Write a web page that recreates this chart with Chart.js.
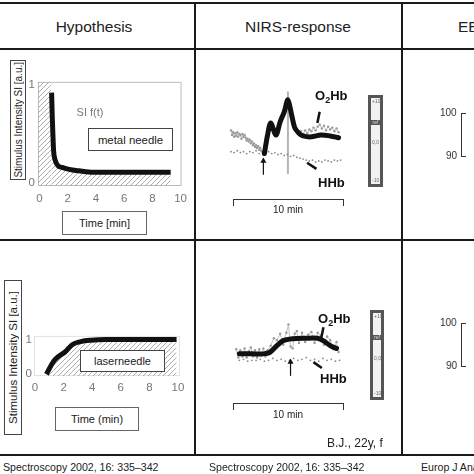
<!DOCTYPE html>
<html>
<head>
<meta charset="utf-8">
<script src="https://cdn.jsdelivr.net/npm/chart.js@4.4.1/dist/chart.umd.min.js"></script>
<style>
body { margin: 0; background: #fff; font-family: "Liberation Sans", Arial, sans-serif; }
#page { position: relative; width: 474px; height: 474px; overflow: hidden; }
.ln { position: absolute; background: #1a1a1a; }
.t { position: absolute; white-space: nowrap; line-height: 1; color: #222; }
.c { transform: translate(-50%, -50%); }
.m { transform: translateY(-50%); }
canvas { position: absolute; }
.box { position: absolute; box-sizing: border-box; border: 1.5px solid #444; display: flex; align-items: center; justify-content: center; color: #222; background: #fff; }
.vbox span { writing-mode: vertical-rl; transform: rotate(180deg); white-space: nowrap; }
.lbl { font-weight: bold; font-size: 13px; color: #111; }
.lbl sub { font-size: 9px; vertical-align: -3px; }
.bar { position: absolute; box-sizing: border-box; border: 3px solid #555; background: #f2f2f2; }
.bar div { position: absolute; left: 1px; font-size: 5px; color: #666; line-height: 1; }
.bar .mk { left: 0; right: 0; height: 5px; background: #555; color: #ddd; text-align: center; }
.bk { position: absolute; box-sizing: border-box; border: 1.2px solid #333; }
</style>
</head>
<body>
<div id="page">
  <!-- table rules -->
  <div class="ln" style="left:0;top:2px;width:474px;height:2px"></div>
  <div class="ln" style="left:0;top:48px;width:474px;height:2px"></div>
  <div class="ln" style="left:0;top:239px;width:474px;height:2px"></div>
  <div class="ln" style="left:0;top:454px;width:474px;height:2px"></div>
  <div class="ln" style="left:194px;top:2px;width:2px;height:454px"></div>
  <div class="ln" style="left:401px;top:2px;width:2px;height:454px"></div>

  <div class="t c" style="left:94px;top:27px;font-size:15.5px">Hypothesis</div>
  <div class="t c" style="left:298px;top:27px;font-size:15.5px">NIRS-response</div>
  <div class="t m" style="left:458px;top:27px;font-size:15.5px">EEG</div>

  <!-- hypothesis, metal needle -->
  <div class="box vbox" style="left:10px;top:60px;width:16px;height:120px;font-size:10px"><span>Stimulus Intensity SI [a.u.]</span></div>
  <canvas id="hyp1" width="179" height="134" style="left:14px;top:72px"></canvas>
  <div class="t c" style="left:90px;top:112px;font-size:11px;color:#777">SI f(t)</div>
  <div class="box" style="left:88px;top:128px;width:85px;height:23px;font-size:11.4px">metal needle</div>
  <div class="box" style="left:62px;top:211px;width:85px;height:24px;font-size:11px;border-color:#666">Time [min]</div>

  <!-- hypothesis, laserneedle -->
  <div class="box vbox" style="left:4px;top:280px;width:18px;height:155px;font-size:11.5px"><span>Stimulus Intensity SI [a.u.]</span></div>
  <canvas id="hyp2" width="178" height="69" style="left:12px;top:327px"></canvas>
  <div class="box" style="left:80px;top:350px;width:85px;height:22px;font-size:11px">laserneedle</div>
  <div class="box" style="left:55px;top:407px;width:84px;height:24px;font-size:11px;border-color:#666">Time (min)</div>

  <!-- NIRS top -->
  <canvas id="nirs1" width="135" height="110" style="left:220px;top:80px"></canvas>
  <div class="t lbl m" style="left:315px;top:97px">O<sub>2</sub>Hb</div>
  <div class="t lbl m" style="left:318px;top:182px">HHb</div>
  <div class="bk" style="left:233px;top:199px;width:111px;height:7px;border-bottom:none"></div>
  <div class="t c" style="left:288px;top:210px;font-size:10px">10 min</div>
  <div class="bar" style="left:368px;top:95px;width:15px;height:92px">
    <div style="top:1px">+10</div>
    <div class="mk" style="top:22px">ref</div>
    <div style="top:42px">0,0</div>
    <div style="bottom:1px">-10</div>
  </div>

  <!-- NIRS bottom -->
  <canvas id="nirs2" width="135" height="95" style="left:220px;top:305px"></canvas>
  <div class="t lbl m" style="left:318px;top:320px">O<sub>2</sub>Hb</div>
  <div class="t lbl m" style="left:320px;top:378px">HHb</div>
  <div class="bk" style="left:233px;top:403px;width:111px;height:7px;border-bottom:none"></div>
  <div class="t c" style="left:288px;top:415px;font-size:10px">10 min</div>
  <div class="bar" style="left:370px;top:310px;width:14px;height:90px">
    <div style="top:1px">+10</div>
    <div class="mk" style="top:22px">ref</div>
    <div style="top:43px">0,0</div>
    <div style="bottom:1px">-10</div>
  </div>
  <div class="t m" style="left:327px;top:443px;font-size:12px">B.J., 22y, f</div>

  <!-- EEG column (cut off) -->
  <div class="t m" style="left:440px;top:113px;font-size:10px;color:#333">100</div>
  <div class="t m" style="left:446px;top:156px;font-size:10px;color:#333">90</div>
  <div class="bk" style="left:461px;top:113px;width:5px;height:44px;border-right:none"></div>
  <div class="t m" style="left:440px;top:323px;font-size:10px;color:#333">100</div>
  <div class="t m" style="left:446px;top:366px;font-size:10px;color:#333">90</div>
  <div class="bk" style="left:461px;top:323px;width:5px;height:44px;border-right:none"></div>

  <div class="t m" style="left:3px;top:467px;font-size:10.6px">Spectroscopy 2002, 16: 335–342</div>
  <div class="t m" style="left:209px;top:467px;font-size:10.6px">Spectroscopy 2002, 16: 335–342</div>
  <div class="t m" style="left:421px;top:467px;font-size:10.6px">Europ J Anaesthesiol</div>
</div>

<script>
Chart.defaults.font.family = '"Liberation Sans", Arial, sans-serif';

// hypothesis panels
const hypTicksX = [0, 2, 4, 6, 8, 10];
const hypTicksY = [0, 1];
const metalTime = [0.86, 0.9, 0.95, 1.0, 1.1, 1.3, 1.6, 2.1, 2.8, 3.8, 5, 7, 9.3];
const metalSI = [0.92, 0.7, 0.5, 0.33, 0.24, 0.18, 0.16, 0.14, 0.125, 0.11, 0.11, 0.11, 0.11];
const metalStripTime = [-0.105, 0.86];
const laserTime = [0.8, 1.3, 1.6, 2.1, 2.6, 3.2, 3.9, 5, 7, 9.9];
const laserSI = [0, 0.37, 0.5, 0.64, 0.85, 0.94, 0.98, 1, 1, 1];

// NIRS, metal needle (time in min, concentration change in a.u.)
const topRawTime = [-0.5, -0.4, -0.3, -0.2, -0.1, 0, 0.1, 0.2, 0.3, 0.4, 0.5, 0.6, 0.7, 0.8, 0.9, 1.0,
    1.1, 1.2, 1.3, 1.4, 1.5, 1.6, 1.7, 1.8, 1.9, 2.0, 2.1, 2.2, 2.3, 2.4, 2.5,
    2.9, 3.1, 3.4, 3.6, 4.0, 4.4, 4.8, 5.1, 5.4, 5.8, 6.2, 6.4, 6.6, 6.8, 7.0, 7.2, 7.4, 7.6, 7.8,
    8.0, 8.2, 8.4, 8.6, 8.8, 9.0, 9.2, 9.4, 9.6, 9.8];
const topRawO2 = [3.0, 2.5, 2.8, 2.3, 2.7, 2.4, 2.8, 2.3, 2.6, 2.5, 2.1, 2.6, 2.3, 2.5, 2.2, 1.9,
    2.1, 1.8, 2.0, 1.6, 1.8, 1.4, 1.6, 1.2, 1.4, 1.1, 1.3, 0.9, 1.1, 0.8, 0.7,
    1.5, 3.3, 3.6, 2.9, 3.2, 4.6, 5.9, 5.8, 4.2, 3.0, 2.9, 2.6, 3.0, 2.7, 3.1, 2.9, 3.3, 3.0, 3.4,
    3.6, 3.2, 3.5, 3.0, 3.4, 3.1, 3.3, 2.9, 3.2, 2.8];
const topFitTime = [2.7, 3.0, 3.3, 3.8, 4.2, 4.6, 4.95, 5.3, 5.6, 6.0, 6.4, 7.2, 8.1, 9.0, 9.8];
const topFitO2 = [0.5, 2.5, 3.8, 2.5, 3.9, 5.0, 6.3, 4.7, 3.3, 2.7, 2.4, 2.3, 2.5, 2.4, 2.2];
const topHHbTime = [-0.5, -0.2, 0.1, 0.4, 0.7, 1.0, 1.3, 1.6, 1.9, 2.2, 2.5, 2.8, 3.1, 3.4, 3.7, 4.0,
    4.3, 4.6, 4.9, 5.2, 5.5, 5.8, 6.1, 6.4, 6.7, 7.0, 7.3, 7.6, 7.9, 8.2, 8.5, 8.8, 9.1, 9.4, 9.7, 10.0];
const topHHb = [0.7, 0.6, 0.8, 0.6, 0.7, 0.5, 0.7, 0.6, 0.8, 0.5, 0.6, 0.5, 0.7, 0.5, 0.6, 0.4,
    0.5, 0.3, 0.4, 0.2, 0.3, 0.1, 0.0, -0.1, -0.2, -0.3, -0.2, -0.4, -0.3, -0.4, -0.2, -0.3, -0.4, -0.2, -0.3, -0.2];
const topStimTime = [4.95, 4.95];
const topStimLevel = [-1.7, 7.2];
const topArrowTime = [2.6, 2.6];
const topArrowLevel = [-1.8, -0.3];
const topO2PtrTime = [7.77, 7.99];
const topO2PtrLevel = [3.8, 5.0];
const topHHbPtrTime = [6.78, 7.68];
const topHHbPtrLevel = [-0.5, -1.15];

// NIRS, laserneedle
const botRawTime = [0.0, 0.2, 0.4, 0.6, 0.8, 1.0, 1.2, 1.4, 1.6, 1.8, 2.0, 2.2, 2.4, 2.6, 2.8, 3.0,
    3.3, 3.6, 3.9, 4.2, 4.5, 4.8, 5.0, 5.2, 5.4, 5.6, 5.8, 6.0, 6.3, 6.6, 6.9, 7.2, 7.5, 7.8,
    8.1, 8.4, 8.7, 9.0, 9.3, 9.6, 9.8];
const botRawO2 = [1.1, 0.2, 1.0, 0.3, 1.2, 0.2, 0.9, 1.3, 0.3, 1.0, 0.2, 1.1, 0.4, 1.2, 0.3, 1.0,
    1.5, 2.3, 2.1, 2.8, 1.6, 2.9, 3.8, 1.4, 1.2, 2.8, 3.1, 1.8, 2.9, 1.9, 2.7, 3.0, 1.8, 2.9,
    2.6, 1.6, 2.5, 2.1, 1.1, 1.9, 0.8];
const botFitTime = [0.3, 1.5, 2.6, 3.2, 3.9, 4.5, 5.4, 6.6, 7.8, 8.4, 9.0, 9.6];
const botFitO2 = [0.6, 0.6, 0.6, 0.75, 1.5, 2.05, 2.25, 2.3, 2.3, 2.0, 1.5, 1.2];
const botHHbTime = [0.3, 0.7, 1.1, 1.5, 1.9, 2.3, 2.7, 3.1, 3.5, 3.9, 4.3, 4.7, 5.1, 5.5, 5.9, 6.3,
    6.7, 7.1, 7.5, 7.9, 8.3, 8.7, 9.1, 9.5, 9.9];
const botHHb = [-0.1, 0.0, -0.2, -0.1, -0.1, 0.0, -0.2, -0.1, 0.1, -0.1, 0.0, -0.2, -0.1, 0.1, -0.1, 0.0,
    0.2, -0.1, 0.0, -0.2, 0.1, -0.1, 0.0, -0.2, -0.1];
const botArrowTime = [5.2, 5.2];
const botArrowLevel = [-1.8, -0.3];
const botO2PtrTime = [8.14, 8.35];
const botO2PtrLevel = [2.3, 3.5];
const botHHbPtrTime = [7.39, 8.2];
const botHHbPtrLevel = [-0.3, -0.95];

function pts(xs, ys) {
    return xs.map((x, i) => ({ x: x, y: ys[i] }));
}

function hatch(canvas) {
    const c = document.createElement('canvas');
    c.width = 5; c.height = 5;
    const g = c.getContext('2d');
    g.strokeStyle = '#999';
    g.lineWidth = 0.8;
    g.beginPath();
    g.moveTo(0, 5); g.lineTo(5, 0);
    g.moveTo(-2.5, 2.5); g.lineTo(2.5, -2.5);
    g.moveTo(2.5, 7.5); g.lineTo(7.5, 2.5);
    g.stroke();
    return canvas.getContext('2d').createPattern(c, 'repeat');
}

const framePlugin = {
    id: 'frame',
    beforeDatasetsDraw(chart, args, opts) {
        const a = chart.chartArea;
        const ctx = chart.ctx;
        ctx.save();
        ctx.strokeStyle = opts.color;
        ctx.lineWidth = 1;
        ctx.strokeRect(a.left + 0.5, a.top + 0.5, a.width - 1, a.height - 1);
        ctx.restore();
    }
};

function makeHyp(id, datasets, xr, yr, yWidth, xPad, yPad, frameColor) {
    return new Chart(document.getElementById(id), {
        type: 'line',
        data: { datasets: datasets },
        options: {
            responsive: false,
            animation: false,
            layout: { padding: { top: 5, right: 10 } },
            plugins: { legend: { display: false }, tooltip: { enabled: false }, frame: { color: frameColor } },
            scales: {
                x: {
                    type: 'linear', min: xr[0], max: xr[1],
                    afterBuildTicks: s => { s.ticks = hypTicksX.map(v => ({ value: v })); },
                    afterFit: s => { s.height = 20; },
                    grid: { display: false, drawTicks: false },
                    border: { display: false },
                    ticks: { color: '#777', font: { size: 11.5 }, padding: xPad, autoSkip: false, maxRotation: 0 }
                },
                y: {
                    min: yr[0], max: yr[1],
                    afterBuildTicks: s => { s.ticks = hypTicksY.map(v => ({ value: v })); },
                    afterFit: s => { s.width = yWidth; },
                    grid: { display: false, drawTicks: false },
                    border: { display: false },
                    ticks: { color: '#777', font: { size: 11.5 }, padding: yPad }
                }
            }
        },
        plugins: [framePlugin]
    });
}

const hyp1 = document.getElementById('hyp1');
const pat1 = hatch(hyp1);
makeHyp('hyp1', [
    {
        data: pts(metalTime, metalSI), borderColor: '#111', borderWidth: 5,
        pointRadius: 0, tension: 0.3, cubicInterpolationMode: 'monotone',
        fill: 'start', backgroundColor: pat1
    },
    {
        data: pts(metalStripTime, [1.029, 1.029]), borderWidth: 0, pointRadius: 0,
        fill: 'start', backgroundColor: pat1
    }
], [-0.105, 10.07], [-0.029, 1.029], 24, 6, 3, '#bdbdbd');

const hyp2 = document.getElementById('hyp2');
makeHyp('hyp2', [
    {
        data: pts(laserTime, laserSI), borderColor: '#111', borderWidth: 5,
        pointRadius: 0, cubicInterpolationMode: 'monotone',
        fill: 'start', backgroundColor: hatch(hyp2)
    }
], [-0.07, 10.14], [-0.053, 1.105], 22, 5, 2, '#e2e2e2');

function makeNirs(id, yr, d) {
    const sets = [
        {   // smoothed O2Hb
            data: pts(d.fitTime, d.fitO2), borderColor: '#111', borderWidth: 5,
            pointRadius: 0, tension: 0.3, borderCapStyle: 'round', borderJoinStyle: 'round'
        },
        {   // label pointers
            data: pts(d.o2PtrTime, d.o2PtrLevel), borderColor: '#111', borderWidth: 2.5, pointRadius: 0
        },
        {
            data: pts(d.hhbPtrTime, d.hhbPtrLevel), borderColor: '#111', borderWidth: 2.5, pointRadius: 0
        },
        {   // stimulus arrow
            data: pts(d.arrowTime, d.arrowLevel), borderColor: '#111', borderWidth: 1.2,
            pointRadius: [0, 3.5], pointStyle: 'triangle', pointBackgroundColor: '#111', pointBorderWidth: 0
        },
        {   // raw O2Hb
            data: pts(d.rawTime, d.rawO2), borderColor: '#c2c2c2', borderWidth: 1,
            pointRadius: 1.2, pointBackgroundColor: '#9a9a9a', pointBorderWidth: 0
        },
        {   // raw HHb
            data: pts(d.hhbTime, d.hhb), showLine: false,
            pointRadius: 0.9, pointBackgroundColor: '#8a8a8a', pointBorderWidth: 0
        }
    ];
    if (d.stimTime) {
        sets.push({ data: pts(d.stimTime, d.stimLevel), borderColor: '#b5b5b5', borderWidth: 2, pointRadius: 0 });
    }
    return new Chart(document.getElementById(id), {
        type: 'line',
        data: { datasets: sets },
        options: {
            responsive: false,
            animation: false,
            plugins: { legend: { display: false }, tooltip: { enabled: false } },
            scales: {
                x: { type: 'linear', display: false, min: -1.171, max: 10.99 },
                y: { display: false, min: yr[0], max: yr[1] }
            }
        }
    });
}

makeNirs('nirs1', [-3, 8], {
    fitTime: topFitTime, fitO2: topFitO2, rawTime: topRawTime, rawO2: topRawO2,
    hhbTime: topHHbTime, hhb: topHHb, arrowTime: topArrowTime, arrowLevel: topArrowLevel,
    stimTime: topStimTime, stimLevel: topStimLevel,
    o2PtrTime: topO2PtrTime, o2PtrLevel: topO2PtrLevel, hhbPtrTime: topHHbPtrTime, hhbPtrLevel: topHHbPtrLevel
});

makeNirs('nirs2', [-4, 5.5], {
    fitTime: botFitTime, fitO2: botFitO2, rawTime: botRawTime, rawO2: botRawO2,
    hhbTime: botHHbTime, hhb: botHHb, arrowTime: botArrowTime, arrowLevel: botArrowLevel,
    o2PtrTime: botO2PtrTime, o2PtrLevel: botO2PtrLevel, hhbPtrTime: botHHbPtrTime, hhbPtrLevel: botHHbPtrLevel
});
</script>
</body>
</html>
